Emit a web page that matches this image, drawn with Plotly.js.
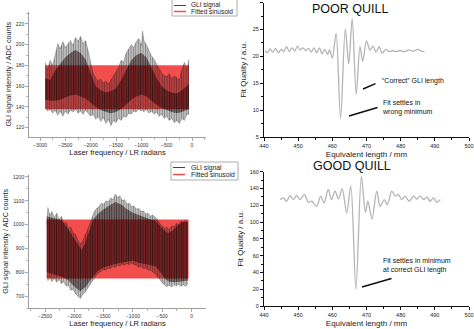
<!DOCTYPE html>
<html><head><meta charset="utf-8">
<script src="https://cdn.plot.ly/plotly-3.0.1.min.js"></script>
<style>html,body{margin:0;padding:0;background:#fff}#chart{width:474px;height:329px}</style>
</head><body><div id="chart"></div>
<script>
// ---------- Top-left: POOR quill raw signal (envelopes) ----------
const poorSinX = [-2900, -60];
const poorSinLow = [138, 138];
const poorSinHigh = [180, 180];

const poorOuterX = [-2900,-2850,-2800,-2750,-2700,-2650,-2600,-2550,-2500,-2450,-2400,-2350,-2300,-2250,-2200,-2150,-2100,-2050,-2000,-1950,-1900,-1850,-1800,-1750,-1700,-1650,-1600,-1550,-1500,-1450,-1400,-1350,-1300,-1250,-1200,-1150,-1100,-1050,-1000,-975,-950,-900,-850,-800,-750,-700,-650,-600,-550,-500,-450,-400,-350,-300,-250,-200,-150,-100,-60];
const poorOuterHigh = [183,176,185,180,190,201,196,203,197,200,204,199,207,203,208,201,204,194,182,172,168,165,167,163,165,162,166,170,174,178,185,183,192,196,200,197,203,206,199,213,204,200,195,189,186,181,177,173,170,169,172,167,170,168,166,176,183,176,186];
const poorOuterLow = [140,136,138,134,137,132,136,131,136,133,137,135,138,134,136,133,137,134,131,133,128,131,126,130,124,128,122,127,125,129,127,131,130,134,133,136,135,138,136,137,135,138,134,136,133,135,131,133,129,131,127,129,125,127,124,129,127,133,133];

const poorCoreX = [-2900,-2800,-2700,-2600,-2500,-2400,-2300,-2200,-2100,-2000,-1900,-1800,-1700,-1600,-1500,-1400,-1300,-1200,-1100,-1000,-900,-800,-700,-600,-500,-400,-300,-200,-100,-60];
const poorCoreHigh = [168,166,175,182,188,192,195,192,186,172,160,156,154,155,158,166,176,185,190,192,188,178,168,160,156,154,153,156,160,162];
const poorCoreLow = [147,146,146,147,149,151,152,150,148,144,140,137,135,134,135,138,142,147,150,152,150,146,142,139,137,135,134,135,137,138];

// ---------- Bottom-left: GOOD quill raw signal ----------
const goodSinX = [-2470, -50];
const goodSinLow = [775, 775];
const goodSinHigh = [1020, 1020];

const goodOuterX = [-2470,-2450,-2420,-2380,-2340,-2300,-2260,-2220,-2180,-2140,-2100,-2060,-2020,-1980,-1940,-1900,-1860,-1820,-1780,-1740,-1700,-1660,-1620,-1580,-1540,-1500,-1460,-1420,-1380,-1340,-1300,-1260,-1220,-1180,-1140,-1100,-1060,-1020,-980,-940,-900,-860,-820,-780,-740,-700,-660,-620,-580,-540,-500,-460,-420,-380,-340,-300,-260,-220,-180,-140,-100,-60];
const goodOuterHigh = [1000,1072,1040,1055,1030,1048,1022,1035,1005,1010,985,990,965,960,935,920,930,950,975,1000,1030,1055,1068,1075,1090,1085,1100,1095,1112,1105,1128,1115,1120,1100,1105,1085,1090,1075,1078,1065,1068,1055,1058,1045,1048,1035,1040,1030,1022,1005,995,985,990,980,995,990,1005,1000,1015,1010,1020,1005];
const goodOuterLow = [790,765,780,760,775,758,770,752,760,742,745,725,728,710,700,690,705,715,730,745,760,775,790,798,805,812,808,818,815,825,820,830,825,835,828,838,830,840,832,828,820,825,815,818,808,810,800,795,780,770,755,748,740,745,738,748,742,750,740,748,740,755];

const goodCoreX = [-2470,-2400,-2300,-2215,-2130,-2044,-1960,-1874,-1820,-1766,-1720,-1680,-1600,-1500,-1400,-1300,-1200,-1100,-1000,-900,-800,-700,-623,-560,-480,-400,-320,-240,-162,-100,-60];
const goodCoreHigh = [1035,1030,1025,1018,990,956,922,893,920,956,990,1020,1045,1065,1080,1095,1085,1065,1050,1040,1030,1022,1018,1000,978,965,975,995,1010,1012,1010];
const goodCoreLowX = [-2470,-2400,-2300,-2200,-2100,-2000,-1900,-1800,-1700,-1600,-1500,-1400,-1300,-1200,-1100,-1000,-900,-800,-700,-620,-560,-500,-440,-380,-300,-200,-120,-60];
const goodCoreLow = [800,795,790,780,765,740,720,740,775,805,820,828,835,840,845,848,840,835,830,825,810,790,770,760,758,760,762,765];

// ---------- Right: fit quality vs equivalent length ----------
const poorLenX = [440.3,441.0,441.8,442.6,443.4,444.2,445.0,445.8,446.6,447.4,448.2,449.0,449.8,450.6,451.4,452.2,453.0,453.8,454.6,455.4,456.2,457.0,457.8,458.6,459.2,460.0,461.1,462.4,463.8,464.8,465.8,467.0,468.1,468.9,470.0,471.0,471.9,472.8,473.7,474.6,475.6,476.6,477.6,478.6,479.8,481.0,482.4,483.8,485.0,486.0,487.0];
const poorFitQ = [21.0,20.7,21.4,20.8,21.5,20.7,21.3,20.9,21.8,20.9,21.6,21.0,21.9,21.2,21.6,21.1,21.5,20.8,21.6,20.7,21.6,20.5,21.3,20.4,21.2,19.7,24.3,8.4,25.1,18.6,27.0,13.0,21.8,19.1,22.9,21.2,21.9,20.8,21.8,20.6,21.3,20.9,21.1,20.9,21.1,20.9,21.2,21.0,21.3,21.0,20.9];

const goodLenX = [444.7,445.7,446.6,447.6,448.6,449.6,450.5,451.8,453.0,454.0,455.4,456.6,457.6,458.8,459.8,460.8,461.8,462.9,464.2,465.4,466.9,468.5,469.7,470.4,471.6,473.0,474.0,475.2,476.1,477.4,478.4,479.3,480.3,481.3,482.5,483.8,484.7,485.7,486.7,487.7,488.6,489.6,490.6,491.6];
const goodFitQ = [126.8,128.8,124.8,131.6,126.8,131.6,126.8,132.8,123.6,124.8,118.8,130.8,122.8,138.8,126.8,136.8,127.6,139.6,110.8,142.8,20,154,111.6,124.8,103.6,136.8,118.8,126.8,120.8,136.8,130.8,132.8,126.8,130.8,124.8,130.8,127.5,130.8,126.7,130,124.7,128.7,123.5,126.7];

const FONT = 'Liberation Sans, Arial, sans-serif';
const RED = 'rgb(242,78,78)';

function bandTraces(xa, ya, lowX, low, highX, high, fillColor, lineColor, lw, name, pattern) {
  const upper = {x: highX, y: high, xaxis: xa, yaxis: ya, type: 'scatter', mode: 'lines', name: name,
     line: {color: lineColor, width: lw}, fill: 'tonexty', fillcolor: fillColor, hoverinfo: 'skip', showlegend: false};
  if (pattern) upper.fillpattern = pattern;
  return [
    {x: lowX, y: low, xaxis: xa, yaxis: ya, type: 'scatter', mode: 'lines', name: name,
     line: {color: lineColor, width: lw}, hoverinfo: 'skip', showlegend: false},
    upper
  ];
}

const outerPattern = {shape: '|', size: 2.4, solidity: 0.45, fgcolor: 'rgba(10,10,10,0.8)', bgcolor: 'rgba(30,30,30,0.22)', fillmode: 'overlay'};
const corePattern = {shape: '|', size: 2.4, solidity: 0.55, fgcolor: 'rgba(5,0,0,0.72)', bgcolor: 'rgba(40,0,0,0.38)', fillmode: 'overlay'};

const traces = [].concat(
  bandTraces('x', 'y', poorSinX, poorSinLow, poorSinX, poorSinHigh, RED, RED, 0.5, 'Fitted sinusoid'),
  bandTraces('x', 'y', poorOuterX, poorOuterLow, poorOuterX, poorOuterHigh, 'rgba(0,0,0,0)', 'rgba(20,20,20,0.5)', 0.5, 'GLI signal', outerPattern),
  bandTraces('x', 'y', poorCoreX, poorCoreLow, poorCoreX, poorCoreHigh, 'rgba(0,0,0,0)', 'rgba(0,0,0,0)', 0, 'GLI signal', corePattern),
  [{x: poorLenX, y: poorFitQ, xaxis: 'x2', yaxis: 'y2', type: 'scatter', mode: 'lines',
    line: {color: '#b4b4b4', width: 1.3, shape: 'spline', smoothing: 0.9}, showlegend: false, name: 'Poor quill'}],
  bandTraces('x3', 'y3', goodSinX, goodSinLow, goodSinX, goodSinHigh, RED, RED, 0.5, 'Fitted sinusoid'),
  bandTraces('x3', 'y3', goodOuterX, goodOuterLow, goodOuterX, goodOuterHigh, 'rgba(0,0,0,0)', 'rgba(20,20,20,0.5)', 0.5, 'GLI signal', outerPattern),
  bandTraces('x3', 'y3', goodCoreLowX, goodCoreLow, goodCoreX, goodCoreHigh, 'rgba(0,0,0,0)', 'rgba(0,0,0,0)', 0, 'GLI signal', corePattern),
  [{x: goodLenX, y: goodFitQ, xaxis: 'x4', yaxis: 'y4', type: 'scatter', mode: 'lines',
    line: {color: '#b4b4b4', width: 1.3, shape: 'spline', smoothing: 0.9}, showlegend: false, name: 'Good quill'}]
);

const W = 474, H = 329;
const px = v => v / W, py = v => 1 - v / H;

function leftAxisX(range, dom, anchor) {
  return {domain: dom, range: range, anchor: anchor, showgrid: false, zeroline: false,
    showline: true, linecolor: '#888', linewidth: 0.8, ticks: 'outside', ticklen: 3, tickcolor: '#888', tickwidth: 0.7,
    tickmode: 'linear', dtick: 500, tick0: 0,
    minor: {ticks: 'outside', ticklen: 2, dtick: 250, tickcolor: '#888', tickwidth: 0.6},
    tickfont: {family: FONT, size: 5, color: '#333'},
    title: {text: 'Laser frequency / LR radians', font: {family: FONT, size: 7.5, color: '#222'}, standoff: 2}};
}
function leftAxisY(range, dom, anchor, dtick, minor) {
  return {domain: dom, range: range, anchor: anchor, showgrid: false, zeroline: false,
    showline: true, linecolor: '#888', linewidth: 0.8, ticks: 'outside', ticklen: 3, tickcolor: '#888', tickwidth: 0.7,
    tickmode: 'linear', dtick: dtick, tick0: 0,
    minor: {ticks: 'outside', ticklen: 2, dtick: minor, tickcolor: '#888', tickwidth: 0.6},
    tickfont: {family: FONT, size: 5, color: '#333'},
    title: {text: 'GLI signal intensity / ADC counts', font: {family: FONT, size: 7.2, color: '#222'}, standoff: 3}};
}
function rightAxisX(dom, anchor) {
  return {domain: dom, range: [440, 500], anchor: anchor, showgrid: false, zeroline: false,
    showline: true, linecolor: '#111', linewidth: 1, ticks: 'outside', ticklen: 3, tickcolor: '#111',
    tickmode: 'linear', dtick: 10, tick0: 0,
    minor: {ticks: 'outside', ticklen: 2, dtick: 5, tickcolor: '#111'},
    tickfont: {family: FONT, size: 5.5, color: '#222'},
    title: {text: 'Equivalent length / mm', font: {family: FONT, size: 8, color: '#222'}, standoff: 3}};
}
function rightAxisY(range, dom, anchor, dtick, minor) {
  return {domain: dom, range: range, anchor: anchor, showgrid: false, zeroline: false,
    showline: true, linecolor: '#111', linewidth: 1, ticks: 'outside', ticklen: 3, tickcolor: '#111',
    tickmode: 'linear', dtick: dtick, tick0: 0,
    minor: {ticks: 'outside', ticklen: 2, dtick: minor, tickcolor: '#111'},
    tickfont: {family: FONT, size: 5.5, color: '#222'},
    title: {text: 'Fit Quality / a.u.', font: {family: FONT, size: 8, color: '#222'}, standoff: 4}};
}

const layout = {
  width: W, height: H, margin: {l: 0, r: 0, t: 0, b: 0}, paper_bgcolor: '#fff', plot_bgcolor: 'rgba(0,0,0,0)',
  showlegend: false, font: {family: FONT},
  xaxis: leftAxisX([-3217, 276], [px(29), px(206)], 'y'),
  yaxis: leftAxisY([111, 232], [py(137), py(11.5)], 'x', 20, 10),
  xaxis2: rightAxisX([px(264), px(469)], 'y2'),
  yaxis2: rightAxisY([5, 30], [py(137), py(2.7)], 'x2', 5, 2.5),
  xaxis3: leftAxisX([-2773, 247], [px(29), px(206)], 'y3'),
  yaxis3: leftAxisY([650, 1210], [py(308), py(174.6)], 'x3', 100, 50),
  xaxis4: rightAxisX([px(264), px(469)], 'y4'),
  yaxis4: rightAxisY([0, 160], [py(306), py(171.7)], 'x4', 20, 10),
  shapes: [
    // manual legend boxes and samples
    {type: 'rect', xref: 'paper', yref: 'paper', x0: px(172), x1: px(237), y0: py(16), y1: py(-1), line: {color: '#999', width: 0.8}, fillcolor: '#fff'},
    {type: 'line', xref: 'paper', yref: 'paper', x0: px(174), x1: px(186), y0: py(5.5), y1: py(5.5), line: {color: '#444', width: 1}},
    {type: 'line', xref: 'paper', yref: 'paper', x0: px(174), x1: px(186), y0: py(11.5), y1: py(11.5), line: {color: RED, width: 1.5}},
    {type: 'rect', xref: 'paper', yref: 'paper', x0: px(171), x1: px(238), y0: py(180), y1: py(162), line: {color: '#999', width: 0.8}, fillcolor: '#fff'},
    {type: 'line', xref: 'paper', yref: 'paper', x0: px(173), x1: px(185), y0: py(167.5), y1: py(167.5), line: {color: '#444', width: 1}},
    {type: 'line', xref: 'paper', yref: 'paper', x0: px(173), x1: px(185), y0: py(174.5), y1: py(174.5), line: {color: RED, width: 1.5}}
  ],
  annotations: [
    {xref: 'paper', yref: 'paper', x: px(189), y: py(5), xanchor: 'left', yanchor: 'middle', text: 'GLI signal', showarrow: false, font: {family: FONT, size: 6.5, color: '#222'}},
    {xref: 'paper', yref: 'paper', x: px(189), y: py(11.3), xanchor: 'left', yanchor: 'middle', text: 'Fitted sinusoid', showarrow: false, font: {family: FONT, size: 6.5, color: '#222'}},
    {xref: 'paper', yref: 'paper', x: px(189), y: py(167.6), xanchor: 'left', yanchor: 'middle', text: 'GLI signal', showarrow: false, font: {family: FONT, size: 6.8, color: '#222'}},
    {xref: 'paper', yref: 'paper', x: px(189), y: py(174.3), xanchor: 'left', yanchor: 'middle', text: 'Fitted sinusoid', showarrow: false, font: {family: FONT, size: 6.8, color: '#222'}},
    {xref: 'paper', yref: 'paper', x: px(350), y: py(9), xanchor: 'center', yanchor: 'middle', text: 'POOR QUILL', showarrow: false, font: {family: FONT, size: 12.5, color: '#111'}},
    {xref: 'paper', yref: 'paper', x: px(352), y: py(166), xanchor: 'center', yanchor: 'middle', text: 'GOOD QUILL', showarrow: false, font: {family: FONT, size: 12.5, color: '#111'}},
    {xref: 'x2', yref: 'y2', x: 473.9, y: 15.42, xanchor: 'left', yanchor: 'middle', text: '\u201cCorrect\u201d GLI length', showarrow: false, font: {family: FONT, size: 7, color: '#111'}},
    {xref: 'x2', yref: 'y2', x: 473.9, y: 10.49, xanchor: 'left', yanchor: 'middle', align: 'left', text: 'Fit settles in<br>wrong minimum', showarrow: false, font: {family: FONT, size: 7, color: '#111'}},
    {xref: 'x4', yref: 'y4', x: 474.2, y: 48.2, xanchor: 'left', yanchor: 'middle', align: 'left', text: 'Fit settles in minimum<br>at correct GLI length', showarrow: false, font: {family: FONT, size: 7, color: '#111'}},
    {xref: 'x2', yref: 'y2', x: 468.97, y: 13.94, ax: 14, ay: -6, text: '', showarrow: true, arrowhead: 0, arrowwidth: 1.6, arrowcolor: '#111', standoff: 0, startstandoff: 0},
    {xref: 'x2', yref: 'y2', x: 464.88, y: 8.91, ax: 30, ay: -9, text: '', showarrow: true, arrowhead: 0, arrowwidth: 1.6, arrowcolor: '#111', standoff: 0, startstandoff: 0},
    {xref: 'x4', yref: 'y4', x: 468.68, y: 22.6, ax: 31, ay: -9, text: '', showarrow: true, arrowhead: 0, arrowwidth: 1.6, arrowcolor: '#111', standoff: 0, startstandoff: 0}
  ]
};

Plotly.newPlot('chart', traces, layout, {staticPlot: true, displayModeBar: false});
</script></body></html>
